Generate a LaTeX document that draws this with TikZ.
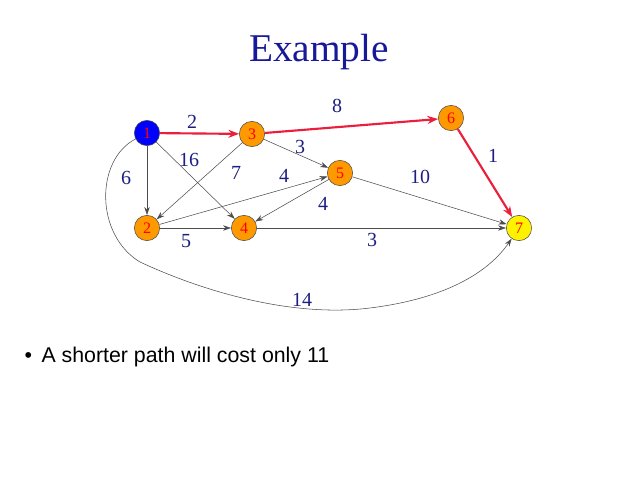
\documentclass[tikz,border=0pt]{standalone}
\usepackage{fontspec}
\setmainfont{Liberation Serif}
\newfontfamily\sansf{Liberation Sans}
\usetikzlibrary{arrows.meta}
\definecolor{org}{RGB}{255,153,0}
\definecolor{navy}{RGB}{30,30,130}
\definecolor{hred}{RGB}{235,30,60}
\begin{document}
\begin{tikzpicture}[x=0.75pt,y=-0.75pt,
 v/.style={circle,draw=black!70,fill=org,minimum size=19pt,inner sep=0pt,text=red,font=\fontsize{12}{12}\selectfont},
 e/.style={draw=black!70,-{Stealth[length=6pt,width=4pt]}},
 hp/.style={draw=hred,line width=1.6pt,-{Stealth[length=8pt,width=6pt]}},
 w/.style={text=navy,font=\fontsize{15}{15}\selectfont}]
\useasboundingbox (0,0) rectangle (638,478);
\node[font=\fontsize{29.5}{30}\selectfont,text=navy!80!blue] (t) at (319,52) {Example};
\node[v,fill=blue] (n1) at (147,133) {1};
\node[v] (n3) at (252,134) {3};
\node[v] (n6) at (451,118) {6};
\node[v] (n5) at (340,173) {5};
\node[v] (n2) at (147,228) {2};
\node[v] (n4) at (244,228) {4};
\node[v,fill=yellow] (n7) at (519,228) {7};
\draw[hp] (n1) -- (n3);
\draw[hp] (n3) -- (n6);
\draw[hp] (n6) -- (n7);
\draw[e] (n1) -- (n2);
\draw[e] (n1) -- (n4);
\draw[e] (n3) -- (n5);
\draw[e] (n3) -- (n2);
\draw[e] (n2) -- (n5);
\draw[e] (n5) -- (n4);
\draw[e] (n2) -- (n4);
\draw[e] (n4) -- (n7);
\draw[e] (n5) -- (n7);
\draw[e] (n1) .. controls (95,160) and (95,235) .. (140,262) .. controls (200,290) and (290,318) .. (370,308) .. controls (450,298) and (490,270) .. (n7);
\node[w] (l1) at (192,122) {2};
\node[w] (l2) at (337,106) {8};
\node[w] (l3) at (300,147) {3};
\node[w] (l4) at (189,160) {16};
\node[w] (l5) at (126,178) {6};
\node[w] (l6) at (236,173) {7};
\node[w] (l7) at (284,176) {4};
\node[w] (l8) at (323,204) {4};
\node[w] (l9) at (420,177) {10};
\node[w] (l10) at (493,156) {1};
\node[w] (l11) at (186,241) {5};
\node[w] (l12) at (372,240) {3};
\node[w] (l13) at (302,300) {14};
\node[anchor=west,font=\sansf\fontsize{16}{17}\selectfont] (b) at (20,357) {\textbullet\hspace{7pt}A shorter path will cost only 11};
\end{tikzpicture}
\end{document}
